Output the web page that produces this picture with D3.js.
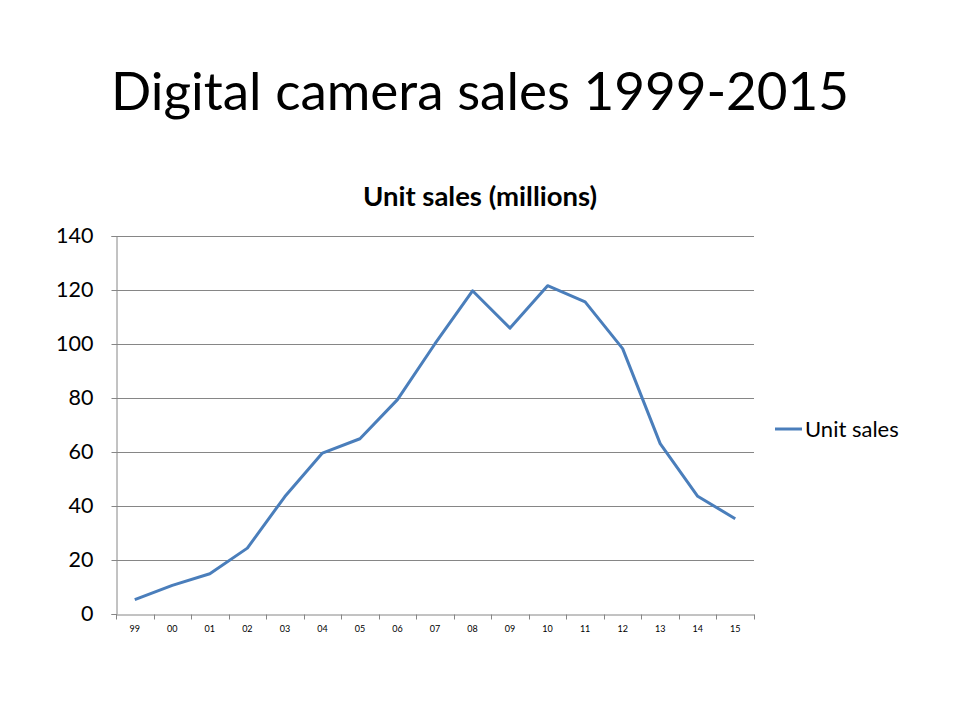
<!DOCTYPE html>
<html>
<head>
<meta charset="utf-8">
<script src="https://cdn.jsdelivr.net/npm/d3@7"></script>
<style>
  body { margin: 0; background: #fff; }
  svg { display: block; font-family: Lato, "Open Sans", sans-serif; }
</style>
</head>
<body>
<div id="chart"></div>
<script>
// data
const years = ["99", "00", "01", "02", "03", "04", "05", "06", "07", "08", "09", "10", "11", "12", "13", "14", "15"];
const unitSales = [5.3, 10.6, 14.9, 24.4, 43.5, 59.6, 64.9, 79.4, 100.1, 119.7, 105.9, 121.6, 115.6, 98.3, 63.1, 43.6, 35.3];
const yTicks = [0, 20, 40, 60, 80, 100, 120, 140];
const seriesName = "Unit sales";

const width = 960, height = 720;
const margin = { top: 236, right: 206, bottom: 106, left: 116 };
const font = "Lato, 'Open Sans', sans-serif";

const svg = d3.select("#chart").append("svg")
  .attr("width", width)
  .attr("height", height);

const x = d3.scaleBand()
  .domain(years)
  .range([margin.left, width - margin.right]);

const y = d3.scaleLinear()
  .domain([0, 140])
  .range([height - margin.bottom, margin.top]);

// slide title
svg.append("text")
  .attr("x", 480)
  .attr("y", 110)
  .attr("text-anchor", "middle")
  .style("font-size", "53px")
  .text("Digital camera sales 1999-2015");

// chart title
svg.append("text")
  .attr("x", 480)
  .attr("y", 206)
  .attr("text-anchor", "middle")
  .style("font-size", "27.5px")
  .style("font-weight", "bold")
  .text("Unit sales (millions)");

// gridlines
svg.append("g")
  .selectAll("line")
  .data(yTicks.slice(1))
  .join("line")
  .attr("x1", margin.left)
  .attr("x2", width - margin.right)
  .attr("y1", d => Math.round(y(d)) + 0.5)
  .attr("y2", d => Math.round(y(d)) + 0.5)
  .attr("stroke", "#868686");

// y axis
const yAxis = svg.append("g")
  .attr("transform", `translate(${margin.left + 0.5},0)`)
  .call(d3.axisLeft(y).tickValues(yTicks).tickSize(5).tickPadding(18));
yAxis.attr("font-family", font);
yAxis.selectAll("text").style("font-size", "21.5px").attr("fill", "#000");
yAxis.selectAll("line, path").attr("stroke", "#868686");

// x axis, ticks between categories
const xAxis = svg.append("g")
  .attr("transform", `translate(0,${Math.round(y(0)) + 0.5})`)
  .call(d3.axisBottom(x).tickSize(0).tickPadding(11));
xAxis.attr("font-family", font);
xAxis.select(".domain").attr("stroke", "#868686");
xAxis.selectAll("text").style("font-size", "9px").attr("fill", "#000");
xAxis.append("g")
  .selectAll("line")
  .data(years.concat("end"))
  .join("line")
  .attr("x1", (d, i) => Math.round(margin.left + i * x.step()) + 0.5)
  .attr("x2", (d, i) => Math.round(margin.left + i * x.step()) + 0.5)
  .attr("y1", 0)
  .attr("y2", 5)
  .attr("stroke", "#868686");

// the line
const line = d3.line()
  .x((d, i) => x(years[i]) + x.bandwidth() / 2)
  .y(d => y(d));

svg.append("path")
  .datum(unitSales)
  .attr("fill", "none")
  .attr("stroke", "#4a7ebb")
  .attr("stroke-width", 3)
  .attr("stroke-linejoin", "round")
  .attr("d", line);

// legend
const legend = svg.append("g").attr("transform", "translate(775,429)");
legend.append("line")
  .attr("x1", 0).attr("x2", 27)
  .attr("stroke", "#4a7ebb")
  .attr("stroke-width", 3);
legend.append("text")
  .attr("x", 30)
  .attr("dy", "0.35em")
  .style("font-size", "22px")
  .text(seriesName);
</script>
</body>
</html>
